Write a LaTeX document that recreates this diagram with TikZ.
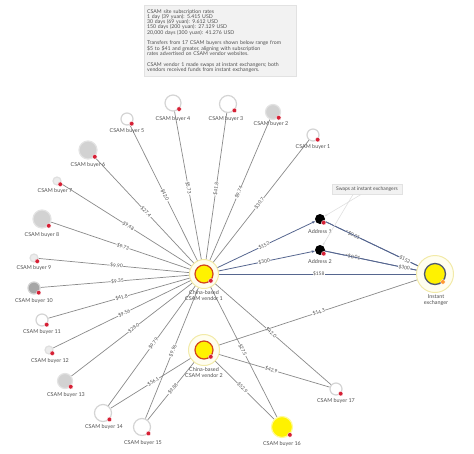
\documentclass[tikz,border=0pt]{standalone}
\usepackage{fontspec}
\setmainfont{Lato}
\usetikzlibrary{arrows.meta}
\pgfdeclarelayer{bg}
\pgfsetlayers{bg,main}
\definecolor{edgegray}{HTML}{8A8A8A}
\definecolor{edgeblue}{HTML}{56668F}
\definecolor{txt}{HTML}{505050}
\definecolor{dotred}{HTML}{D62035}
\definecolor{ringgray}{HTML}{D4D4D4}
\definecolor{halocol}{HTML}{F2EAA8}
\definecolor{vborder}{HTML}{D2461E}
\definecolor{xborder}{HTML}{4F5870}
\definecolor{boxfill}{HTML}{F2F2F2}
\definecolor{boxline}{HTML}{E2E2E2}
\definecolor{ylw}{HTML}{FFF200}
\begin{document}
\begin{tikzpicture}[x=1pt,y=-1pt,
  buyer/.style={circle, draw=ringgray, line width=1.2pt, fill=white, inner sep=0pt, minimum size=#1},
  buyerg/.style={buyer=#1, fill=gray!35, draw=gray!22},
  buyerl/.style={buyer=#1, fill=gray!15, draw=gray!25},
  buyerd/.style={buyer=#1, fill=gray!70, draw=gray!35},
  buyery/.style={buyer=#1, fill=ylw, draw=ylw!40},
  reddot/.style={circle, fill=dotred, draw=white, line width=0.3pt, inner sep=0pt, minimum size=4.6pt},
  orangedot/.style={circle, fill=orange!80, draw=white, line width=0.3pt, inner sep=0pt, minimum size=4.6pt},
  halo/.style={circle, draw=halocol, line width=1pt, fill=ylw!6, inner sep=0pt, minimum size=#1},
  vendor/.style={circle, fill=ylw, draw=vborder, line width=1.2pt, inner sep=0pt, minimum size=18pt},
  exch/.style={circle, fill=ylw, draw=xborder, line width=1.3pt, inner sep=0pt, minimum size=21pt},
  addr/.style={circle, fill=black, inner sep=0pt, minimum size=10pt},
  lbl/.style={font=\fontsize{5.4}{6}\selectfont, text=txt, inner sep=0pt, align=center},
  elab/.style={sloped, fill=white, inner sep=0.5pt, font=\fontsize{4.9}{5}\selectfont, text=txt},
  edge/.style={draw=edgegray, line width=0.7pt},
  bedge/.style={draw=edgeblue, line width=0.8pt},
  arr/.style={-{Stealth[length=3.2pt,width=2.6pt]}},
  callout/.style={draw=gray!25, line width=0.6pt, -{Stealth[length=3pt,width=2.4pt]}},
]
\useasboundingbox (0,0) rectangle (474,453);

% info box
\node[anchor=north west, fill=boxfill, draw=boxline, line width=0.4pt, inner xsep=3pt, inner ysep=4pt,
      text width=146pt, align=left, font=\fontsize{5.2}{5.3}\selectfont, text=txt] (info) at (144,5) {%
CSAM site subscription rates\\
1 day (39 yuan): 5.415 USD\\
30 days (69 yuan): 9.612 USD\\
150 days (200 yuan): 27.129 USD\\
20,000 days (300 yuan): 41.276 USD\\[5.3pt]
Transfers from 17 CSAM buyers shown below range from\\
\$5 to \$41 and greater, aligning with subscription\\
rates advertised on CSAM vendor websites.\\[5.3pt]
CSAM vendor 1 made swaps at instant exchangers; both\\
vendors received funds from instant exchangers.};

% halos
\node[halo=29pt] (h1) at (204,274) {};
\node[halo=31pt] (h2) at (204,350) {};
\node[halo=37pt] (hx) at (435,274) {};

% buyers
\node[buyer=12pt]  (b1)  at (313,135) {};
\node[buyerg=15pt] (b2)  at (273,112) {};
\node[buyer=17pt]  (b3)  at (228,104) {};
\node[buyer=16pt]  (b4)  at (173,103) {};
\node[buyer=12pt]  (b5)  at (127,119) {};
\node[buyerg=18pt] (b6)  at (88,150) {};
\node[buyerl=8pt]  (b7)  at (57,181) {};
\node[buyerg=18pt] (b8)  at (42,219) {};
\node[buyerl=8pt]  (b9)  at (34,258) {};
\node[buyerd=12pt] (b10) at (34,288) {};
\node[buyer=12pt]  (b11) at (42,320) {};
\node[buyerl=8pt]  (b12) at (49,350) {};
\node[buyerg=15pt] (b13) at (65,381) {};
\node[buyer=17pt]  (b14) at (103,413) {};
\node[buyer=17pt]  (b15) at (142,427) {};
\node[buyery=21pt] (b16) at (282,427) {};
\node[buyer=12pt]  (b17) at (336,389) {};

% vendors, exchanger, addresses
\node[vendor] (v1) at (204,274) {};
\node[vendor] (v2) at (204,350) {};
\node[exch] (x) at (435,274) {};
\node[addr] (a1) at (320,219) {};
\node[addr] (a2) at (320,250) {};

% red dots
\foreach \n in {b1,b2,b3,b4,b5,b6,b7,b8,b9,b10,b11,b12,b13,b14,b15,b16,b17,v1,v2,a1,a2}
  \node[reddot] (d\n) at (\n.south east) {};
\node[orangedot] (dx) at (x.south east) {};

% labels
\node[lbl] (l1)  at (313,147) {CSAM buyer 1};
\node[lbl] (l2)  at (271,124) {CSAM buyer 2};
\node[lbl] (l3)  at (226,119) {CSAM buyer 3};
\node[lbl] (l4)  at (173,119) {CSAM buyer 4};
\node[lbl] (l5)  at (127,131) {CSAM buyer 5};
\node[lbl] (l6)  at (88,165)  {CSAM buyer 6};
\node[lbl] (l7)  at (55,191)  {CSAM buyer 7};
\node[lbl] (l8)  at (42,235)  {CSAM buyer 8};
\node[lbl] (l9)  at (34,268)  {CSAM buyer 9};
\node[lbl] (l10) at (34,301)  {CSAM buyer 10};
\node[lbl] (l11) at (42,332)  {CSAM buyer 11};
\node[lbl] (l12) at (50,361)  {CSAM buyer 12};
\node[lbl] (l13) at (66,395)  {CSAM buyer 13};
\node[lbl] (l14) at (104,427) {CSAM buyer 14};
\node[lbl] (l15) at (143,443) {CSAM buyer 15};
\node[lbl] (l16) at (282,444) {CSAM buyer 16};
\node[lbl] (l17) at (336,401) {CSAM buyer 17};
\node[lbl] (lv1) at (204,296) {China-based\\CSAM vendor 1};
\node[lbl] (lv2) at (204,373) {China-based\\CSAM vendor 2};
\node[lbl] (lx)  at (436,300) {Instant\\exchanger};
\node[lbl] (la1) at (320,232) {Address 1};
\node[lbl] (la2) at (320,262) {Address 2};

% swaps callout
\node[fill=boxfill, draw=boxline, line width=0.4pt, inner xsep=4pt, inner ysep=3pt,
      font=\fontsize{5}{6}\selectfont, text=txt] (sw) at (367,189) {Swaps at instant exchangers};
\coordinate (c1) at ([xshift=-6pt]sw.south);
\coordinate (c2) at ([xshift=-14pt]sw.south);
\draw[callout] (c1) -- (a1);
\draw[callout] (c2) -- (a2);

\begin{pgfonlayer}{bg}
\draw[edge] (b1)  -- node[elab]{\$30.7} (v1);
\draw[edge] (b2)  -- node[elab]{\$9.74} (v1);
\draw[edge] (b3)  -- node[elab]{\$41.8} (v1);
\draw[edge] (b4)  -- node[elab]{\$5.73} (v1);
\draw[edge] (b5)  -- node[elab]{\$42.0} (v1);
\draw[edge] (b6)  -- node[elab]{\$27.4} (v1);
\draw[edge] (b7)  -- node[elab]{\$9.48} (v1);
\draw[edge] (b8)  -- node[elab]{\$9.73} (v1);
\draw[edge] (b9)  -- node[elab]{\$9.90} (v1);
\draw[edge] (b10) -- node[elab]{\$9.35} (v1);
\draw[edge] (b11) -- node[elab]{\$41.8} (v1);
\draw[edge] (b12) -- node[elab]{\$9.56} (v1);
\draw[edge] (b13) -- node[elab]{\$28.0} (v1);
\draw[edge] (b14) -- node[elab]{\$9.79} (v1);
\draw[edge] (b15) -- node[elab]{\$9.96} (v1);
\draw[edge] (b16) -- node[elab]{\$27.5} (v1);
\draw[edge] (b17) -- node[elab]{\$42.0} (v1);
\draw[edge] (b14) -- node[elab]{\$56.1} (v2);
\draw[edge] (b15) -- node[elab]{\$9.88} (v2);
\draw[edge] (b16) -- node[elab]{\$52.9} (v2);
\draw[edge] (b17) -- node[elab]{\$42.9} (v2);
\draw[edge] (x)   -- node[elab]{\$14.3} (v2);
\draw[bedge,arr] (v1) -- node[elab]{\$152} (a1);
\draw[bedge,arr] (v1) -- node[elab]{\$300} (a2);
\draw[bedge] (x) -- node[elab]{\$158} (v1);
\draw[bedge] (x) -- node[elab,pos=0.72]{<\$0.01} (a1);
\draw[bedge] (x) -- node[elab,pos=0.72]{<\$0.01} (a2);
\draw[bedge,arr] (a1) -- node[elab,pos=0.8]{\$152} (x);
\draw[bedge,arr] (a2) -- node[elab,pos=0.8]{\$300} (x);
\end{pgfonlayer}
\end{tikzpicture}
\end{document}
